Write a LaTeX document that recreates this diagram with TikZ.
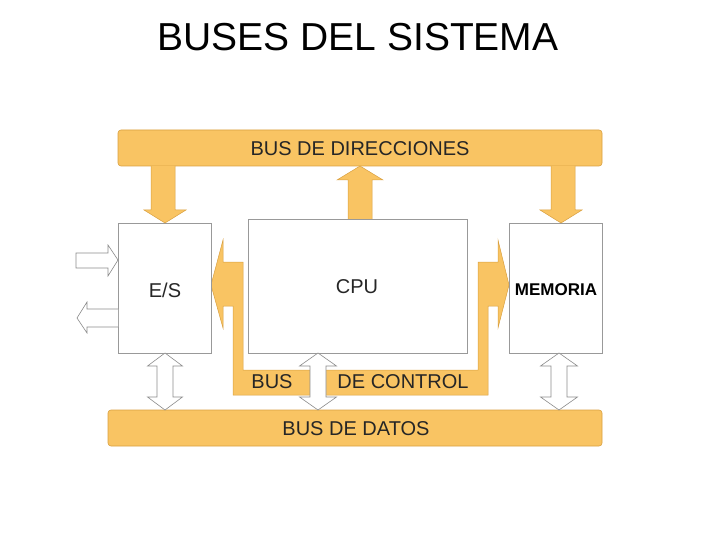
\documentclass[tikz,border=0pt]{standalone}
\usepackage{fontspec}
\setmainfont{Liberation Sans}
\begin{document}
\begin{tikzpicture}[x=1pt,y=-1pt,
  bus/.style={fill=busc,draw=busd,line width=0.6pt,rounded corners=3pt},
  blk/.style={fill=white,draw=gray!80,line width=0.6pt},
  arr/.style={fill=busc,draw=busd,line width=0.5pt},
  warr/.style={fill=white,draw=gray!90,line width=0.6pt},
  lbl/.style={font=\fontsize{20}{20}\selectfont,text=black!85}]
\definecolor{busc}{HTML}{F9C463}
\definecolor{busd}{HTML}{D9A040}
\path[use as bounding box] (0,0) rectangle (720,540);
\node[font=\fontsize{39}{39}\selectfont] (title) at (358,37) {BUSES DEL SISTEMA};
% buses
\draw[bus] (118,130) rectangle (602,166);
\node[lbl] (dir) at (360,149) {BUS DE DIRECCIONES};
\draw[bus] (108,410) rectangle (602,446);
\node[lbl] (dat) at (356,429) {BUS DE DATOS};
% control bus
\draw[arr] (211,285) -- (223,240) -- (223,262) -- (243,262) -- (243,370) -- (478,370)
  -- (478,262) -- (498,262) -- (498,240) -- (509,285) -- (498,328) -- (498,306) -- (488,306)
  -- (488,395) -- (233,395) -- (233,306) -- (223,306) -- (223,328) -- cycle;
\node[lbl] (cb1) at (272,382) {BUS};
\node[lbl] (cb2) at (403,382) {DE CONTROL};
% blocks
\node[blk,minimum width=93pt,minimum height=130pt,anchor=north west] (es) at (118,223) {};
\node[lbl] at (165,290) {E/S};
\node[blk,minimum width=219pt,minimum height=134pt,anchor=north west] (cpu) at (248,219) {};
\node[lbl] at (357,287) {CPU};
\node[blk,minimum width=93pt,minimum height=130pt,anchor=north west] (mem) at (509,223) {};
\node[font=\bfseries\fontsize{17}{17}\selectfont] at (556,290) {MEMORIA};
% address arrows
\draw[arr] (151,166) -- (151,210) -- (144,210) -- (165,223) -- (186,210) -- (175,210) -- (175,166);
\draw[arr] (348,219) -- (348,180) -- (337,180) -- (360,166) -- (383,180) -- (372,180) -- (372,219);
\draw[arr] (551,166) -- (551,210) -- (540,210) -- (561,223) -- (582,210) -- (575,210) -- (575,166);
% data double arrows
\foreach \c/\h in {165/17.5, 318/18.5, 559/18.5}{
  \draw[warr] (\c,353) -- (\c+\h,366) -- (\c+8,366) -- (\c+8,397) -- (\c+\h,397) -- (\c,410)
    -- (\c-\h,397) -- (\c-8,397) -- (\c-8,366) -- (\c-\h,366) -- cycle;
}
% I/O arrows
\draw[warr] (76,253) -- (108,253) -- (108,245) -- (118,260) -- (108,276) -- (108,268) -- (76,268) -- cycle;
\draw[warr] (118,309) -- (87,309) -- (87,302) -- (77,318) -- (87,333) -- (87,327) -- (118,327);
\end{tikzpicture}
\end{document}
